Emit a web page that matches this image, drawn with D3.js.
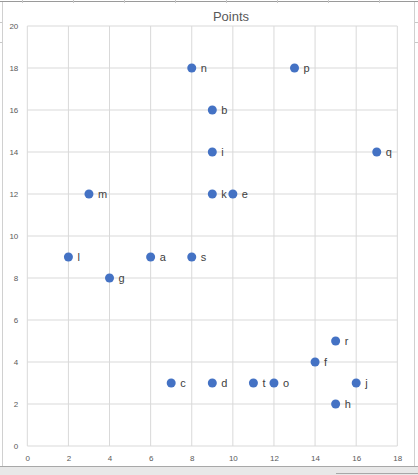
<!DOCTYPE html>
<html>
<head>
<meta charset="utf-8">
<script src="https://cdn.jsdelivr.net/npm/d3@7"></script>
<style>
  body { margin: 0; background: #fff; }
  svg { display: block; }
</style>
</head>
<body>
<svg width="418" height="475"></svg>
<script>
// point data
const labels = ["n", "p", "b", "i", "q", "m", "k", "e", "l", "a", "s", "g", "r", "f", "c", "d", "t", "o", "j", "h"];
const xValues = [8, 13, 9, 9, 17, 3, 9, 10, 2, 6, 8, 4, 15, 14, 7, 9, 11, 12, 16, 15];
const yValues = [18, 18, 16, 14, 14, 12, 12, 12, 9, 9, 9, 8, 5, 4, 3, 3, 3, 3, 3, 2];
const xTicks = [0, 2, 4, 6, 8, 10, 12, 14, 16, 18];
const yTicks = [0, 2, 4, 6, 8, 10, 12, 14, 16, 18, 20];
const title = "Points";

function drawSheet(svg) {
    // spreadsheet bits around the chart object
    svg.append("line")
        .attr("x1", 0).attr("x2", 418).attr("y1", 1.5).attr("y2", 1.5)
        .style("stroke", "#9a9a9a");
    [22, 73, 124, 175, 226, 277, 328, 379].forEach((x) => {
        svg.append("line")
            .attr("x1", x + 0.5).attr("x2", x + 0.5).attr("y1", 0).attr("y2", 3)
            .style("stroke", "#c8c8c8");
    });
    [22, 42].forEach((y) => {
        svg.append("line").attr("x1", 0).attr("x2", 2).attr("y1", y + 0.5).attr("y2", y + 0.5)
            .style("stroke", "#c8c8c8");
        svg.append("line").attr("x1", 415).attr("x2", 418).attr("y1", y + 0.5).attr("y2", y + 0.5)
            .style("stroke", "#c8c8c8");
    });
    svg.append("line")
        .attr("x1", 2.5).attr("x2", 2.5).attr("y1", 2).attr("y2", 466)
        .style("stroke", "#d0d0d0");
    svg.append("line")
        .attr("x1", 414.5).attr("x2", 414.5).attr("y1", 2).attr("y2", 466)
        .style("stroke", "#d0d0d0");
    svg.append("rect")
        .attr("x", 0).attr("y", 466).attr("width", 418).attr("height", 9)
        .style("fill", "#e8e8e8");
    svg.append("line")
        .attr("x1", 0).attr("x2", 418).attr("y1", 466.5).attr("y2", 466.5)
        .style("stroke", "#a8a8a8");
    svg.append("line")
        .attr("x1", 336).attr("x2", 418).attr("y1", 473.5).attr("y2", 473.5)
        .style("stroke", "#a8a8a8");
}

function drawChart() {
    const svg = d3.select("svg");
    drawSheet(svg);

    const area = { left: 27.3, right: 397.3, top: 26, bottom: 446 };

    const scaleX = d3.scaleLinear().domain([0, 18]).range([area.left, area.right]);
    const scaleY = d3.scaleLinear().domain([0, 20]).range([area.bottom, area.top]);

    // gridlines
    svg.append("g")
        .selectAll("line")
        .data(xTicks)
        .enter()
        .append("line")
        .attr("x1", (d) => scaleX(d)).attr("x2", (d) => scaleX(d))
        .attr("y1", area.top).attr("y2", area.bottom)
        .style("stroke", "#d9d9d9");
    svg.append("g")
        .selectAll("line")
        .data(yTicks)
        .enter()
        .append("line")
        .attr("x1", area.left).attr("x2", area.right)
        .attr("y1", (d) => scaleY(d)).attr("y2", (d) => scaleY(d))
        .style("stroke", "#d9d9d9");

    const axisX = d3.axisBottom(scaleX).tickValues(xTicks).tickSize(0).tickPadding(9);
    const axisY = d3.axisLeft(scaleY).tickValues(yTicks).tickSize(0).tickPadding(9);

    const gx = svg.append("g")
        .attr("transform", `translate(0, ${area.bottom})`)
        .call(axisX);
    const gy = svg.append("g")
        .attr("transform", `translate(${area.left}, 0)`)
        .call(axisY);
    [gx, gy].forEach((g) => {
        g.select(".domain").remove();
        g.selectAll("text")
            .style("font-family", "Liberation Sans, Arial, sans-serif")
            .style("font-size", "8px")
            .style("fill", "#595959");
    });

    svg.append("text")
        .attr("x", 231)
        .attr("y", 21)
        .attr("text-anchor", "middle")
        .style("font-family", "Liberation Sans, Arial, sans-serif")
        .style("font-size", "13px")
        .style("fill", "#595959")
        .text(title);

    const points = labels.map((l, i) => ({ label: l, x: xValues[i], y: yValues[i] }));

    svg.append("g")
        .selectAll("circle")
        .data(points)
        .enter()
        .append("circle")
        .attr("cx", (d) => scaleX(d.x))
        .attr("cy", (d) => scaleY(d.y))
        .attr("r", 4.5)
        .style("fill", "#4472C4");

    svg.append("g")
        .selectAll("text")
        .data(points)
        .enter()
        .append("text")
        .attr("x", (d) => scaleX(d.x) + 9)
        .attr("y", (d) => scaleY(d.y) + 4)
        .style("font-family", "Liberation Sans, Arial, sans-serif")
        .style("font-size", "11px")
        .style("fill", "#404040")
        .text((d) => d.label);
}

drawChart();
</script>
</body>
</html>
